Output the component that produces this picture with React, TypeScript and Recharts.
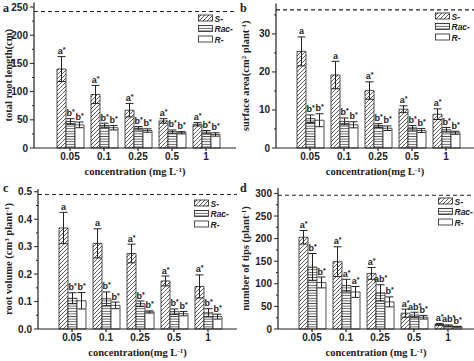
import React from 'react'
import { Bar, BarChart, ErrorBar, ReferenceLine, XAxis, YAxis, Label } from 'recharts'

const concentrations = ['0.05', '0.1', '0.25', '0.5', '1']
const seriesNames = ['S-', 'Rac-', 'R-']

// a: total root length (cm)
const lengthS = [140, 95, 67, 48, 42]
const lengthSErr = [22, 16, 12, 4, 3]
const lengthRac = [47, 40, 35, 29, 28]
const lengthRacErr = [5, 4, 3, 3, 3]
const lengthR = [41, 36, 31, 27, 24]
const lengthRErr = [5, 4, 3, 2, 3]
const lengthCtrl = 242
const lengthLetters = [
  ['a*', 'a*', 'a*', 'a*', 'a*'],
  ['b*', 'b*', 'b*', 'b*', 'b*'],
  ['b*', 'b*', 'b*', 'b*', 'b*'],
]

// b: surface area (cm2 plant-1)
const areaS = [25.4, 19.2, 15.1, 10.2, 8.9]
const areaSErr = [3.8, 3.6, 2.3, 0.9, 1.4]
const areaRac = [7.7, 7.0, 5.9, 5.3, 4.8]
const areaRacErr = [1.0, 0.9, 0.5, 0.6, 0.6]
const areaR = [7.3, 6.1, 5.2, 4.6, 4.0]
const areaRErr = [1.7, 0.8, 0.6, 0.5, 0.4]
const areaCtrl = 36.3
const areaLetters = [
  ['a', 'a', 'a*', 'a*', 'a*'],
  ['b*', 'b*', 'b*', 'b*', 'b*'],
  ['b*', 'b*', 'b*', 'b*', 'b*'],
]

// c: root volume (cm3 plant-1)
const volS = [0.368, 0.312, 0.275, 0.175, 0.155]
const volSErr = [0.057, 0.053, 0.034, 0.018, 0.042]
const volRac = [0.112, 0.11, 0.092, 0.063, 0.059]
const volRacErr = [0.02, 0.025, 0.01, 0.01, 0.015]
const volR = [0.103, 0.086, 0.062, 0.056, 0.045]
const volRErr = [0.03, 0.012, 0.004, 0.008, 0.009]
const volCtrl = 0.49
const volLetters = [
  ['a', 'a', 'a*', 'a*', 'a*'],
  ['b*', 'b*', 'b*', 'b*', 'b*'],
  ['b*', 'b*', 'b*', 'b*', 'b*'],
]

// d: number of tips (plant-1)
const tipsS = [203, 149, 123, 35, 10]
const tipsSErr = [15, 33, 13, 9, 2]
const tipsRac = [137, 96, 80, 31, 7]
const tipsRacErr = [30, 14, 18, 6, 2]
const tipsR = [103, 82, 60, 26, 5]
const tipsRErr = [12, 12, 11, 4, 1]
const tipsCtrl = 296
const tipsLetters = [
  ['a*', 'a*', 'a*', 'a*', 'a*'],
  ['b*', 'a*', 'ab*', 'ab*', 'ab*'],
  ['b*', 'a*', 'b*', 'b*', 'b*'],
]

const lengthTicks = [0, 25, 50, 75, 100, 125, 150, 175, 200, 225, 250]
const lengthMajor = [0, 50, 100, 150, 200, 250]
const areaTicks = [0, 5, 10, 15, 20, 25, 30, 35]
const areaMajor = [0, 10, 20, 30]
const volTicks = [0, 0.05, 0.1, 0.15, 0.2, 0.25, 0.3, 0.35, 0.4, 0.45, 0.5]
const volMajor = [0, 0.1, 0.2, 0.3, 0.4, 0.5]
const tipsTicks = [0, 25, 50, 75, 100, 125, 150, 175, 200, 225, 250, 275, 300]
const tipsMajor = [0, 50, 100, 150, 200, 250, 300]

type Part = { t: string; sup?: boolean }

const sans = '"Liberation Sans", Arial, sans-serif'
const serif = '"Liberation Serif", "Times New Roman", serif'
const ink = '#222'

function Parts({ parts }: { parts: Part[] }) {
  return (
    <>
      {parts.map((p, i) => {
        const prevSup = i > 0 && parts[i - 1].sup
        const dy = p.sup ? -3.5 : prevSup ? 3.5 : 0
        return (
          <tspan key={i} dy={dy} fontSize={p.sup ? 7 : undefined}>
            {p.t}
          </tspan>
        )
      })}
    </>
  )
}

function Letter({ text, x, y }: { text: string; x: number; y: number }) {
  const star = text.endsWith('*')
  const base = star ? text.slice(0, -1) : text
  return (
    <text x={x} y={y} textAnchor="middle" fontFamily={sans} fontWeight="bold" fontSize={9} fill={ink}>
      {base}
      {star && (
        <tspan fontSize={7} dy={-2}>
          *
        </tspan>
      )}
    </text>
  )
}

function Patterns({ id }: { id: string }) {
  return (
    <defs>
      <pattern id={`diag-${id}`} width={4} height={4} patternUnits="userSpaceOnUse">
        <rect width={4} height={4} fill="#fff" />
        <path d="M-1,1 l2,-2 M0,4 l4,-4 M3,5 l2,-2" stroke="#333" strokeWidth={0.8} />
      </pattern>
      <pattern id={`horiz-${id}`} width={4} height={2.6} patternUnits="userSpaceOnUse">
        <rect width={4} height={2.6} fill="#fff" />
        <line x1={0} x2={4} y1={1.3} y2={1.3} stroke="#333" strokeWidth={0.8} />
      </pattern>
    </defs>
  )
}

interface PanelProps {
  id: string
  left: number
  top: number
  width: number
  height: number
  margin: { top: number; right: number; bottom: number }
  yWidth: number
  xPad: { left: number; right: number }
  s: number[]
  sErr: number[]
  rac: number[]
  racErr: number[]
  r: number[]
  rErr: number[]
  letters: string[][]
  ctrl: number
  yMax: number
  ticks: number[]
  major: number[]
  fmt: (v: number) => string
  yTitle: Part[]
  xTitle: Part[]
  panelLetter: string
  legend: { x: number; y: number }
}

function Panel(p: PanelProps) {
  const data = concentrations.map((c, i) => ({
    c,
    s: p.s[i],
    sErr: p.sErr[i],
    rac: p.rac[i],
    racErr: p.racErr[i],
    r: p.r[i],
    rErr: p.rErr[i],
  }))
  const errs = [p.sErr, p.racErr, p.rErr]
  const fills = [`url(#diag-${p.id})`, `url(#horiz-${p.id})`, '#fff']
  const keys = ['s', 'rac', 'r']

  const YTick = (props: any) => {
    const { x, y, payload } = props
    const isMajor = p.major.some((m) => Math.abs(m - payload.value) < 1e-9)
    return (
      <g>
        <line x1={x} x2={x - (isMajor ? 4 : 2)} y1={y} y2={y} stroke={ink} strokeWidth={1} />
        {isMajor && (
          <text x={x - 6} y={y} dy={3.5} textAnchor="end" fontFamily={sans} fontWeight="bold" fontSize={10} fill={ink}>
            {p.fmt(payload.value)}
          </text>
        )}
      </g>
    )
  }

  const makeLabel = (series: number) => (props: any) => {
    const { x, y, width, height, index, value } = props
    if (!value) return null
    const err = errs[series][index]
    const errTop = y - (err * height) / value
    return <Letter key={index} text={p.letters[series][index]} x={x + width / 2} y={errTop - 2.5} />
  }

  return (
    <div style={{ position: 'absolute', left: p.left, top: p.top, width: p.width, height: p.height }}>
      <BarChart
        width={p.width}
        height={p.height}
        data={data}
        margin={{ top: p.margin.top, right: p.margin.right, bottom: p.margin.bottom, left: 0 }}
        barGap={0}
      >
        <Patterns id={p.id} />
        <XAxis
          dataKey="c"
          padding={{ left: p.xPad.left, right: p.xPad.right }}
          height={30}
          stroke={ink}
          strokeWidth={1.2}
          tickSize={3}
          tickMargin={2}
          tick={{ fill: ink, fontSize: 10, fontWeight: 'bold', fontFamily: sans }}
        >
          <Label
            content={({ viewBox }: any) => (
              <text
                x={viewBox.x + viewBox.width / 2}
                y={viewBox.y + 27}
                textAnchor="middle"
                fontFamily={serif}
                fontWeight="bold"
                fontSize={10.5}
                fill={ink}
              >
                <Parts parts={p.xTitle} />
              </text>
            )}
          />
        </XAxis>
        <YAxis
          domain={[0, p.yMax]}
          ticks={p.ticks}
          width={p.yWidth}
          stroke={ink}
          strokeWidth={1.2}
          tickLine={false}
          tickSize={0}
          tickMargin={0}
          tick={YTick}
          interval={0}
        >
          <Label
            content={({ viewBox }: any) => {
              const cx = 12
              const cy = viewBox.y + viewBox.height / 2
              return (
                <text
                  x={cx}
                  y={cy}
                  transform={`rotate(-90, ${cx}, ${cy})`}
                  textAnchor="middle"
                  fontFamily={serif}
                  fontWeight="bold"
                  fontSize={10.5}
                  fill={ink}
                >
                  <Parts parts={p.yTitle} />
                </text>
              )
            }}
          />
        </YAxis>
        <ReferenceLine y={p.ctrl} stroke={ink} strokeWidth={1.2} strokeDasharray="4 3" ifOverflow="extendDomain" />
        {keys.map((k, i) => (
          <Bar
            key={k}
            dataKey={k}
            barSize={9}
            fill={fills[i]}
            stroke={ink}
            strokeWidth={0.8}
            isAnimationActive={false}
            label={makeLabel(i)}
          >
            <ErrorBar dataKey={`${k}Err`} width={4} stroke={ink} strokeWidth={1} />
          </Bar>
        ))}
      </BarChart>
      <div
        style={{
          position: 'absolute',
          left: 3,
          top: 1,
          fontFamily: serif,
          fontWeight: 'bold',
          fontSize: 12,
          color: ink,
        }}
      >
        {p.panelLetter}
      </div>
      <svg style={{ position: 'absolute', left: p.legend.x, top: p.legend.y }} width={36} height={34}>
        <Patterns id={`${p.id}-lg`} />
        {seriesNames.map((name, i) => (
          <g key={name}>
            <rect
              x={0.5}
              y={1 + i * 10.5}
              width={14}
              height={6}
              fill={[`url(#diag-${p.id}-lg)`, `url(#horiz-${p.id}-lg)`, '#fff'][i]}
              stroke={ink}
              strokeWidth={0.8}
            />
            <text
              x={16.5}
              y={7.5 + i * 10.5}
              fontFamily={sans}
              fontWeight="bold"
              fontStyle="italic"
              fontSize={8.5}
              fill={ink}
            >
              {name}
            </text>
          </g>
        ))}
      </svg>
    </div>
  )
}

const oneDecimal = (v: number) => v.toFixed(1)
const plain = (v: number) => String(v)

export default function App() {
  return (
    <div style={{ position: 'absolute', left: 0, top: 0, width: 474, height: 361, background: '#fff', overflow: 'hidden' }}>
      <Panel
        id="a"
        left={0}
        top={0}
        width={237}
        height={180}
        margin={{ top: 2.5, right: 1, bottom: 2 }}
        yWidth={34}
        xPad={{ left: 19, right: 13 }}
        s={lengthS}
        sErr={lengthSErr}
        rac={lengthRac}
        racErr={lengthRacErr}
        r={lengthR}
        rErr={lengthRErr}
        letters={lengthLetters}
        ctrl={lengthCtrl}
        yMax={258}
        ticks={lengthTicks}
        major={lengthMajor}
        fmt={plain}
        yTitle={[{ t: 'total root length(cm)' }]}
        xTitle={[{ t: 'concentration (mg L' }, { t: '-1', sup: true }, { t: ')' }]}
        panelLetter="a"
        legend={{ x: 198, y: 14 }}
      />
      <Panel
        id="b"
        left={237}
        top={0}
        width={237}
        height={180}
        margin={{ top: 3.5, right: 0, bottom: 2 }}
        yWidth={39}
        xPad={{ left: 17, right: 11 }}
        s={areaS}
        sErr={areaSErr}
        rac={areaRac}
        racErr={areaRacErr}
        r={areaR}
        rErr={areaRErr}
        letters={areaLetters}
        ctrl={areaCtrl}
        yMax={38}
        ticks={areaTicks}
        major={areaMajor}
        fmt={plain}
        yTitle={[{ t: 'surface area(cm' }, { t: '2', sup: true }, { t: ' plant' }, { t: '-1', sup: true }, { t: ')' }]}
        xTitle={[{ t: 'concentration(mg L' }, { t: '-1', sup: true }, { t: ')' }]}
        panelLetter="b"
        legend={{ x: 198, y: 12 }}
      />
      <Panel
        id="c"
        left={0}
        top={180}
        width={237}
        height={181}
        margin={{ top: 9, right: 0, bottom: 2 }}
        yWidth={38}
        xPad={{ left: 17, right: 12 }}
        s={volS}
        sErr={volSErr}
        rac={volRac}
        racErr={volRacErr}
        r={volR}
        rErr={volRErr}
        letters={volLetters}
        ctrl={volCtrl}
        yMax={0.51}
        ticks={volTicks}
        major={volMajor}
        fmt={oneDecimal}
        yTitle={[{ t: 'root volume (cm' }, { t: '3', sup: true }, { t: ' plant' }, { t: '-1', sup: true }, { t: ')' }]}
        xTitle={[{ t: 'concentration(mg L' }, { t: '-1', sup: true }, { t: ')' }]}
        panelLetter="c"
        legend={{ x: 194, y: 19 }}
      />
      <Panel
        id="d"
        left={237}
        top={180}
        width={237}
        height={181}
        margin={{ top: 8, right: 0, bottom: 2 }}
        yWidth={41}
        xPad={{ left: 17, right: 9 }}
        s={tipsS}
        sErr={tipsSErr}
        rac={tipsRac}
        racErr={tipsRacErr}
        r={tipsR}
        rErr={tipsRErr}
        letters={tipsLetters}
        ctrl={tipsCtrl}
        yMax={312}
        ticks={tipsTicks}
        major={tipsMajor}
        fmt={plain}
        yTitle={[{ t: 'number of tips (plant' }, { t: '-1', sup: true }, { t: ')' }]}
        xTitle={[{ t: 'concentration (mg L' }, { t: '-1', sup: true }, { t: ')' }]}
        panelLetter="d"
        legend={{ x: 201, y: 17 }}
      />
    </div>
  )
}
